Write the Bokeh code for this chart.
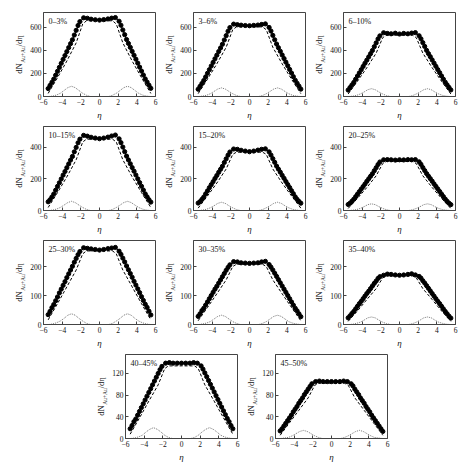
from bokeh.plotting import figure
from bokeh.models import Range1d, FixedTicker, Label, Spacer, LinearAxis
from bokeh.layouts import row, column
from bokeh.embed import file_html
from bokeh.resources import INLINE

# ---------------- data ----------------
ETA = [-5.5, -5.3, -5.1, -4.9, -4.7, -4.5, -4.3, -4.1, -3.9, -3.7, -3.5, -3.3, -3.1, -2.9, -2.7, -2.5, -2.3, -2.1,
       -1.7, -1.3, -0.9, -0.45, 0.0, 0.45, 0.9, 1.3, 1.7,
       2.1, 2.3, 2.5, 2.7, 2.9, 3.1, 3.3, 3.5, 3.7, 3.9, 4.1, 4.3, 4.5, 4.7, 4.9, 5.1, 5.3, 5.5]

DASH_ETA = [-5.5, -4.5, -3.5, -2.5, -1.8, -1.4, 0.0, 1.4, 1.8, 2.5, 3.5, 4.5, 5.5]

DOT_ETA = [-5.4, -5.0, -4.6, -4.2, -3.8, -3.4, -3.0, -2.6, -2.2, -1.8, -1.4, -1.0,
           1.0, 1.4, 1.8, 2.2, 2.6, 3.0, 3.4, 3.8, 4.2, 4.6, 5.0, 5.4]

CENTRALITY = ["0–3%", "3–6%", "6–10%", "10–15%", "15–20%", "20–25%",
              "25–30%", "30–35%", "35–40%", "40–45%", "45–50%"]

dN_0_3 = [69, 96, 123, 151, 185, 219, 253, 288, 322, 356, 390, 425, 459, 493, 534, 575, 617, 651,
          684, 680, 672, 667, 664, 668, 674, 681, 686,
          654, 619, 578, 537, 495, 461, 427, 392, 358, 324, 290, 255, 221, 187, 153, 125, 98, 71]
dN_3_6 = [63, 88, 113, 139, 170, 202, 233, 265, 296, 328, 359, 391, 422, 454, 491, 529, 567, 599,
          629, 624, 620, 617, 615, 618, 621, 626, 631,
          600, 569, 531, 493, 456, 424, 393, 361, 330, 298, 267, 235, 204, 172, 141, 115, 90, 64]
dN_6_10 = [56, 78, 100, 122, 150, 178, 205, 233, 261, 289, 316, 344, 372, 400, 433, 466, 500, 527,
           554, 548, 545, 550, 543, 548, 545, 551, 555,
           528, 501, 468, 435, 401, 373, 346, 318, 290, 262, 234, 207, 179, 151, 124, 101, 79, 57]
dN_10_15 = [55, 68, 85, 104, 128, 152, 175, 199, 223, 246, 270, 294, 318, 341, 370, 398, 427, 450,
            474, 469, 462, 457, 453, 457, 463, 470, 476,
            452, 428, 400, 371, 343, 319, 295, 271, 248, 224, 200, 176, 153, 129, 105, 86, 68, 53]
dN_15_20 = [47, 56, 70, 85, 105, 124, 144, 163, 182, 202, 221, 241, 260, 279, 303, 326, 349, 369,
            388, 386, 380, 375, 371, 375, 381, 386, 389,
            370, 350, 327, 304, 280, 261, 242, 222, 203, 183, 164, 145, 125, 106, 86, 70, 57, 46]
dN_20_25 = [38, 46, 58, 71, 87, 103, 119, 135, 151, 167, 184, 200, 216, 232, 251, 270, 290, 306,
            320, 321, 320, 318, 320, 319, 321, 320, 321,
            307, 291, 271, 252, 233, 217, 201, 185, 168, 152, 136, 120, 104, 88, 72, 58, 46, 37]
dN_25_30 = [34, 45, 58, 69, 82, 95, 109, 122, 135, 148, 162, 175, 188, 201, 215, 228, 241, 252,
            265, 263, 261, 259, 257, 259, 262, 264, 266,
            253, 242, 229, 216, 202, 189, 176, 163, 149, 136, 123, 110, 96, 83, 70, 59, 46, 33]
dN_30_35 = [28, 37, 48, 56, 67, 78, 89, 100, 111, 122, 132, 143, 154, 165, 176, 187, 197, 206,
            217, 216, 213, 212, 211, 212, 213, 216, 218,
            207, 198, 188, 177, 166, 155, 144, 133, 122, 111, 100, 89, 78, 67, 56, 47, 37, 27]
dN_35_40 = [23, 30, 38, 45, 54, 63, 72, 80, 89, 98, 107, 115, 124, 133, 142, 150, 159, 165,
            170, 174, 173, 171, 170, 171, 173, 175, 171,
            166, 160, 151, 143, 134, 125, 116, 107, 98, 89, 80, 72, 63, 54, 45, 37, 29, 22]
dN_40_45 = [18, 24, 31, 36, 43, 50, 57, 64, 71, 78, 85, 92, 99, 106, 113, 120, 127, 133,
            139, 140, 139, 139, 139, 139, 139, 140, 139,
            134, 128, 121, 114, 107, 100, 93, 86, 79, 72, 65, 58, 51, 44, 37, 31, 24, 18]
dN_45_50 = [14, 18, 23, 28, 33, 38, 43, 49, 54, 59, 65, 70, 75, 81, 86, 91, 96, 101,
            105, 106, 105, 105, 105, 105, 105, 106, 105,
            101, 97, 91, 86, 81, 75, 70, 65, 59, 54, 49, 43, 38, 33, 28, 23, 18, 13]

dash_0_3 = [27, 164, 308, 466, 630, 658, 658, 658, 630, 466, 308, 164, 27]
dash_3_6 = [25, 151, 284, 428, 580, 605, 605, 605, 580, 428, 284, 151, 25]
dash_6_10 = [22, 133, 250, 377, 511, 533, 533, 533, 511, 377, 250, 133, 22]
dash_10_15 = [19, 113, 212, 320, 432, 450, 450, 450, 432, 320, 212, 113, 19]
dash_15_20 = [15, 92, 173, 262, 354, 368, 368, 368, 354, 262, 173, 92, 15]
dash_20_25 = [13, 77, 145, 219, 296, 309, 309, 309, 296, 219, 145, 77, 13]
dash_25_30 = [16, 72, 130, 188, 244, 254, 254, 254, 244, 188, 130, 72, 16]
dash_30_35 = [13, 59, 106, 154, 200, 208, 208, 208, 200, 154, 106, 59, 13]
dash_35_40 = [11, 47, 86, 124, 161, 168, 168, 168, 161, 124, 86, 47, 11]
dash_40_45 = [8, 38, 69, 99, 129, 134, 134, 134, 129, 99, 69, 38, 8]
dash_45_50 = [6, 29, 52, 75, 98, 102, 102, 102, 98, 75, 52, 29, 6]

dot_0_3 = [0, 4, 13, 28, 52, 77, 89, 77, 52, 28, 11, 0, 0, 11, 28, 52, 77, 89, 77, 52, 28, 13, 4, 0]
dot_3_6 = [0, 4, 11, 24, 44, 65, 75, 65, 44, 24, 9, 0, 0, 9, 24, 44, 65, 75, 65, 44, 24, 11, 4, 0]
dot_6_10 = [0, 3, 10, 22, 39, 59, 68, 59, 39, 22, 8, 0, 0, 8, 22, 39, 59, 68, 59, 39, 22, 10, 3, 0]
dot_10_15 = [0, 3, 9, 19, 34, 50, 58, 50, 34, 19, 7, 0, 0, 7, 19, 34, 50, 58, 50, 34, 19, 9, 3, 0]
dot_15_20 = [0, 3, 8, 17, 30, 45, 52, 45, 30, 17, 6, 0, 0, 6, 17, 30, 45, 52, 45, 30, 17, 8, 3, 0]
dot_20_25 = [0, 2, 6, 13, 24, 37, 42, 37, 24, 13, 5, 0, 0, 5, 13, 24, 37, 42, 37, 24, 13, 6, 2, 0]
dot_25_30 = [0, 2, 6, 12, 21, 32, 37, 32, 21, 12, 4, 0, 0, 4, 12, 21, 32, 37, 32, 21, 12, 6, 2, 0]
dot_30_35 = [0, 2, 5, 10, 19, 28, 32, 28, 19, 10, 4, 0, 0, 4, 10, 19, 28, 32, 28, 19, 10, 5, 2, 0]
dot_35_40 = [0, 1, 4, 8, 15, 23, 26, 23, 15, 8, 3, 0, 0, 3, 8, 15, 23, 26, 23, 15, 8, 4, 1, 0]
dot_40_45 = [0, 1, 3, 6, 12, 17, 20, 17, 12, 6, 2, 0, 0, 2, 6, 12, 17, 20, 17, 12, 6, 3, 1, 0]
dot_45_50 = [0, 1, 2, 5, 9, 13, 15, 13, 9, 5, 2, 0, 0, 2, 5, 9, 13, 15, 13, 9, 5, 2, 1, 0]

X_TICKS = [-6, -4, -2, 0, 2, 4, 6]
Y_MAX = [730, 730, 730, 530, 530, 530, 290, 290, 290, 155, 155]
Y_TICKS = [[0, 200, 400, 600]] * 3 + [[0, 200, 400]] * 3 + [[0, 100, 200]] * 3 + [[0, 40, 80, 120]] * 2

DATA = [dN_0_3, dN_3_6, dN_6_10, dN_10_15, dN_15_20, dN_20_25, dN_25_30, dN_30_35, dN_35_40, dN_40_45, dN_45_50]
DASH = [dash_0_3, dash_3_6, dash_6_10, dash_10_15, dash_15_20, dash_20_25, dash_25_30, dash_30_35, dash_35_40, dash_40_45, dash_45_50]
DOT = [dot_0_3, dot_3_6, dot_6_10, dot_10_15, dot_15_20, dot_20_25, dot_25_30, dot_30_35, dot_35_40, dot_40_45, dot_45_50]

SERIF = "Liberation Serif"
FRAME = "#444444"
TXT = "#111111"
NB = "\u00a0"


def make_panel(i):
    ymax = Y_MAX[i]
    p = figure(width=150, height=114, x_range=Range1d(-6, 6), y_range=Range1d(0, ymax),
               output_backend="svg", toolbar_location=None,
               min_border_left=35, min_border_right=3, min_border_top=4, min_border_bottom=26)
    p.grid.visible = False
    p.outline_line_color = FRAME
    p.outline_line_width = 1
    p.xaxis.ticker = FixedTicker(ticks=X_TICKS)
    p.yaxis.ticker = FixedTicker(ticks=Y_TICKS[i])
    for ax in (p.xaxis[0], p.yaxis[0]):
        ax.major_tick_in = 3
        ax.major_tick_out = 0
        ax.minor_tick_line_color = None
        ax.axis_line_color = FRAME
        ax.major_tick_line_color = FRAME
        ax.major_label_text_font = SERIF
        ax.major_label_text_font_size = "7.5px"
        ax.major_label_text_color = TXT
        ax.major_label_standoff = 2
    p.xaxis.axis_label = "η"
    p.xaxis.axis_label_text_font = SERIF
    p.xaxis.axis_label_text_font_style = "italic"
    p.xaxis.axis_label_text_font_size = "9px"
    p.xaxis.axis_label_text_color = TXT
    p.xaxis.axis_label_standoff = 2

    # y label: subscript on the inner axis, main text on an outer blank axis
    yax = p.yaxis[0]
    yax.axis_label = "Au+Au"
    yax.axis_label_text_font = SERIF
    yax.axis_label_text_font_style = "normal"
    yax.axis_label_text_font_size = "5.5px"
    yax.axis_label_text_color = TXT
    yax.axis_label_standoff = 1
    outer = LinearAxis(ticker=FixedTicker(ticks=[]), axis_line_color=None,
                       major_tick_line_color=None, minor_tick_line_color=None,
                       major_label_standoff=0, major_tick_in=0, major_tick_out=0,
                       axis_label="dN" + NB * 8 + "/dη", axis_label_text_font=SERIF,
                       axis_label_text_font_style="normal", axis_label_text_font_size="8.5px",
                       axis_label_text_color=TXT, axis_label_standoff=-6)
    p.add_layout(outer, "left")

    dot = DOT[i]
    p.line(DOT_ETA[:12], dot[:12], line_color="#777777", line_dash="1 1", line_width=1)
    p.line(DOT_ETA[12:], dot[12:], line_color="#777777", line_dash="1 1", line_width=1)
    p.line(DASH_ETA, DASH[i], line_color="black", line_dash="3 2", line_width=1)
    p.line(ETA, DATA[i], line_color="black", line_width=1)
    p.scatter(ETA, DATA[i], size=4.2, fill_color="black", line_color="black")

    p.add_layout(Label(x=-6, y=ymax, x_offset=5, y_offset=-4, text=CENTRALITY[i],
                       text_font=SERIF, text_font_size="8px", text_baseline="top",
                       text_align="left", text_color=TXT))
    return p


panels = [make_panel(i) for i in range(11)]
layout = column(
    Spacer(width=10, height=8),
    row(Spacer(width=8, height=114), panels[0], panels[1], panels[2]),
    row(Spacer(width=8, height=114), panels[3], panels[4], panels[5]),
    row(Spacer(width=8, height=114), panels[6], panels[7], panels[8]),
    row(Spacer(width=90, height=114), panels[9], panels[10]),
)

open("out.html", "w").write(file_html(layout, INLINE))
